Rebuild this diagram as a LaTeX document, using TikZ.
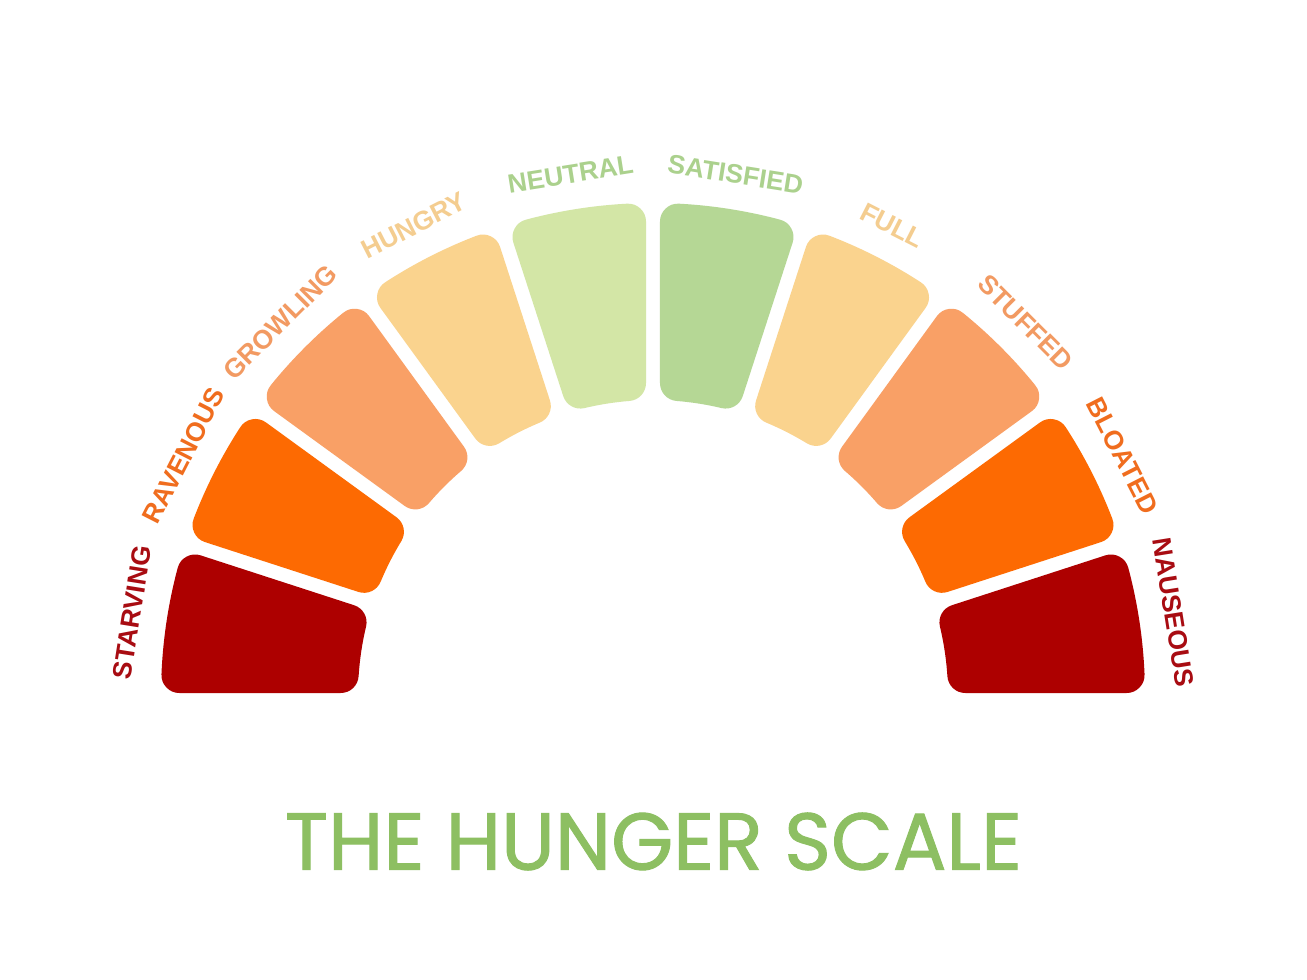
\documentclass[tikz,border=0pt]{standalone}
\usepackage{fontspec}
\setmainfont{Liberation Sans}
\newfontfamily\titlefont[FakeBold=1.2]{Poppins}
\usetikzlibrary{calc}
\definecolor{segA}{HTML}{AD0000}
\definecolor{segB}{HTML}{FD6A02}
\definecolor{segC}{HTML}{F9A066}
\definecolor{segD}{HTML}{FAD38E}
\definecolor{segE}{HTML}{D3E6A6}
\definecolor{segF}{HTML}{B5D795}
\definecolor{txtA}{HTML}{A80C12}
\definecolor{txtB}{HTML}{F06D1E}
\definecolor{txtC}{HTML}{F29A62}
\definecolor{txtD}{HTML}{F4CD90}
\definecolor{txtE}{HTML}{ABD18D}
\definecolor{titlegreen}{HTML}{8DBF62}
\tikzset{
  segshape/.style={line width=36pt, line join=round},
  seglabel/.style={inner sep=0pt, font=\fontsize{26.5}{26.5}\selectfont\bfseries},
}
\begin{document}
\begin{tikzpicture}[x=1pt,y=1pt]
\useasboundingbox (0,0) rectangle (1307,980);
\fill[white] (0,0) rectangle (1307,980);
\coordinate (C) at (653,285);
\def\Ro{474}
\def\Ri{313}
\foreach \i/\col/\tcol/\lab in {0/segA/txtA/STARVING,1/segB/txtB/RAVENOUS,2/segC/txtC/GROWLING,3/segD/txtD/HUNGRY,4/segE/txtE/NEUTRAL,5/segF/txtE/SATISFIED,6/segD/txtD/FULL,7/segC/txtC/STUFFED,8/segB/txtB/BLOATED,9/segA/txtA/NAUSEOUS}{
  \pgfmathsetmacro{\aone}{180-18*(\i+1)}
  \pgfmathsetmacro{\atwo}{180-18*\i}
  \pgfmathsetmacro{\done}{ifthenelse(\i==9,20,25)}
  \pgfmathsetmacro{\dtwo}{ifthenelse(\i==0,20,25)}
  \pgfmathsetmacro{\tOa}{\aone+asin(\done/\Ro)}
  \pgfmathsetmacro{\tOb}{\atwo-asin(\dtwo/\Ro)}
  \pgfmathsetmacro{\tIa}{\aone+asin(\done/\Ri)}
  \pgfmathsetmacro{\tIb}{\atwo-asin(\dtwo/\Ri)}
  \pgfmathsetmacro{\amid}{180-18*\i-9}
  \pgfmathsetmacro{\rot}{\amid-90}
  \filldraw[segshape, fill=\col, draw=\col]
    ($(C)+(\tOa:\Ro)$) arc[start angle=\tOa, end angle=\tOb, radius=\Ro]
    -- ($(C)+(\tIb:\Ri)$) arc[start angle=\tIb, end angle=\tIa, radius=\Ri]
    -- cycle;
  \node[seglabel, text=\tcol, rotate=\rot] (lab\i) at ($(C)+(\amid:527)$) {\lab};
}
\node[inner sep=0pt, text=titlegreen] (title) at (653.5,138.5)
  {\resizebox{737pt}{57pt}{\titlefont THE HUNGER SCALE}};
\end{tikzpicture}
\end{document}
